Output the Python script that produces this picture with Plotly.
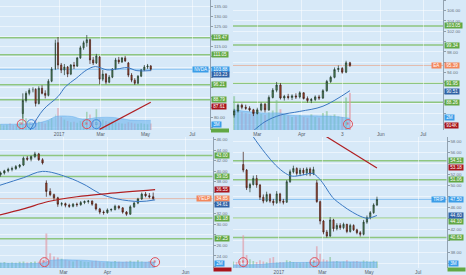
import pandas as pd
import plotly.graph_objects as go

FONT = "Liberation Sans"
HOLIDAYS = ["2016-11-24", "2016-12-26", "2017-01-02", "2017-01-16",
            "2017-02-20", "2017-04-14", "2017-05-29", "2017-07-04"]

# ---------------- NVDA (every 3rd trading day from start) ----------------
NV_START = "2016-10-13"
NV_STEP = 3
NV_O = [66, 66.5, 67, 68, 66.5, 65.5, 66.5,
        82, 88.5, 92, 93.5, 94, 87, 94.5, 92, 91, 98,
        104, 117, 106, 103.5, 105, 101.5, 106, 105.5, 109.5, 114.5,
        117, 118.5, 108.5, 107, 110, 99, 101.5, 97.5, 100, 104,
        108.5, 107.5, 109.5, 107, 101, 98.5, 97, 100.5, 103.5, 105,
        105.5]
NV_H = [67, 67.5, 68.5, 68.5, 67, 67, 69,
        92, 93, 94.5, 95, 94.5, 95.5, 96, 93.5, 99, 105,
        118.5, 119.8, 107, 106.5, 105.5, 106.5, 107.5, 110, 115.5, 118,
        120.8, 119, 110, 111.5, 110.5, 103.5, 102, 101, 104.5, 109.5,
        110, 110, 110.5, 107.5, 102, 99.5, 101, 104, 106, 106.5,
        106]
NV_L = [65.5, 66, 66.5, 66, 65, 65, 66,
        79.5, 87.5, 91, 92.5, 85.5, 86.5, 91.5, 89.5, 90.5, 97.5,
        103.5, 104, 102, 101, 100, 101, 104, 105, 109, 113.5,
        115, 106.5, 106, 106.5, 96.5, 98, 96.5, 97, 99.5, 103.5,
        106.5, 107, 107.5, 100, 97.5, 96.2, 96.5, 100, 103, 104,
        103]
NV_C = [66.5, 67, 68, 66.5, 65.5, 66.5, 68.5,
        88.5, 92, 93.5, 94, 87, 94.5, 92, 91, 98, 104,
        117, 106, 103.5, 105, 101.5, 106, 105.5, 109.5, 114.5, 117,
        118.5, 108.5, 107, 110.5, 99, 101.5, 97.5, 100, 104, 108.5,
        107.5, 109.5, 108, 101, 98.5, 97, 100.5, 103.5, 105, 105.5,
        103.88]
NV_VOL = [22, 18, 20, 25, 19, 21, 30,
          80, 45, 30, 28, 40, 32, 30, 25, 35, 45,
          60, 85, 50, 40, 35, 30, 32, 28, 35, 40,
          70, 60, 40, 80, 45, 40, 35, 30, 32, 30,
          28, 25, 24, 30, 28, 25, 24, 26, 24, 22,
          25]
NV_VMA_D = ["2016-10-13", "2016-11-10", "2016-12-01", "2016-12-16", "2016-12-28",
            "2017-01-20", "2017-02-03", "2017-02-24", "2017-03-20", "2017-04-10", "2017-05-08"]
NV_VMA_V = [22, 23, 26, 38, 52, 52, 42, 48, 48, 38, 37]
NV_MA50_D = ["2016-11-21", "2016-12-09", "2016-12-30", "2017-01-11", "2017-01-26", "2017-02-09",
             "2017-02-22", "2017-03-09", "2017-03-22", "2017-04-05", "2017-04-19", "2017-05-08"]
NV_MA50_V = [73.0, 83.8, 90.4, 95.3, 99.4, 103.6, 105.2, 103.6, 104.0, 104.7, 103.2, 103.23]
NV_MA200_D = ["2017-02-28", "2017-05-08"]
NV_MA200_V = [74.2, 87.61]
NV_EVT_D = ["2016-11-10", "2016-11-23", "2017-02-09", "2017-02-23"]
NV_EVT_T = ["E", "D", "E", "D"]
NV_LEVELS = [119.47, 111.05, 96.21, 88.79]
NV_TICKVALS = ["2017-01-03", "2017-03-01", "2017-05-01", "2017-07-03"]
NV_TICKTEXT = ["2017", "Mar", "May", "Jul"]

# ---------------- EA (every 2nd trading day) ----------------
EA_START = "2017-02-10"
EA_STEP = 2
EA_O = [85.8, 86.6, 87.7, 87.3, 87.1, 86.8, 86.1, 86.8, 87.9, 86.8,
        89.2, 90.6, 91.6, 89.1, 89.4, 89.2, 89.5, 89.3, 90.1, 89.0,
        88.6, 88.8, 89.3, 89.1, 90.5, 92.3, 93.1, 94.6, 94.8, 94.1, 95.9]
EA_H = [87.0, 88.0, 88.0, 87.8, 87.5, 87.0, 87.2, 88.2, 88.1, 89.6,
        91.0, 92.2, 92.0, 89.7, 89.9, 89.8, 90.0, 90.4, 90.2, 89.4,
        89.1, 89.6, 89.7, 90.8, 92.6, 93.4, 95.0, 95.4, 95.1, 96.3, 96.1]
EA_L = [85.3, 86.3, 86.9, 86.8, 86.5, 85.6, 85.9, 86.5, 86.3, 86.6,
        89.0, 90.2, 88.8, 88.6, 88.8, 88.7, 88.9, 89.0, 88.8, 88.2,
        88.1, 88.5, 88.7, 88.9, 90.3, 92.0, 92.9, 94.1, 93.8, 93.9, 95.1]
EA_C = [86.6, 87.7, 87.3, 87.1, 86.8, 86.1, 86.8, 87.9, 86.8, 89.2,
        90.6, 91.6, 89.1, 89.4, 89.2, 89.5, 89.3, 90.1, 89.0, 88.6,
        88.8, 89.3, 89.1, 90.5, 92.3, 93.1, 94.6, 94.8, 94.1, 95.9, 95.39]
EA_VOL = [5.2, 3.0, 2.8, 2.6, 2.5, 2.9, 2.4, 2.5, 2.3, 2.7,
          3.0, 4.6, 3.2, 2.4, 2.2, 2.0, 2.1, 2.3, 2.0, 1.9,
          2.4, 2.0, 1.9, 2.6, 2.9, 2.2, 2.4, 2.1, 2.0, 5.0, 5.7]
EA_VMA_D = ["2017-02-10", "2017-02-23", "2017-03-06", "2017-03-17", "2017-03-23", "2017-04-26", "2017-05-09"]
EA_VMA_V = [3.1, 2.8, 2.6, 2.6, 2.3, 2.1, 1.8]
EA_MA50_D = ["2017-02-24", "2017-03-07", "2017-03-17", "2017-03-31", "2017-04-19", "2017-05-09"]
EA_MA50_V = [82.4, 84.5, 85.8, 86.5, 87.5, 90.51]
EA_EVT_D = ["2017-05-08"]
EA_EVT_T = ["E"]
EA_LEVELS = [103.05, 99.34, 91.95, 88.26]
EA_TICKVALS = ["2017-03-01", "2017-04-03", "2017-05-03", "2017-06-01", "2017-07-03"]
EA_TICKTEXT = ["Mar", "Apr", "3", "Jun", "Jul"]

# ---------------- YELP (every 2nd trading day) ----------------
YP_START = "2017-01-11"
YP_STEP = 2
YP_O = [39.4, 39.7, 40.1, 40.4, 40.5, 40.9, 41.2, 42.5, 42.3, 42.8,
        43.3, 42.2, 37.8, 36.2, 35.6, 35.0, 33.8, 33.9, 33.6, 33.4,
        33.8, 33.7, 34.1, 34.3, 34.4, 33.8, 32.9, 32.3, 32.2, 32.7,
        32.8, 33.4, 33.1, 32.3, 31.9, 33.3, 34.0, 34.8, 35.7, 35.4, 35.2]
YP_H = [40.0, 40.3, 40.7, 40.9, 41.2, 41.4, 42.8, 42.9, 43.0, 43.7,
        43.5, 42.5, 38.3, 36.8, 35.8, 35.2, 34.2, 34.1, 33.9, 34.0,
        34.1, 34.4, 34.5, 34.6, 34.5, 34.0, 33.1, 32.6, 33.0, 33.0,
        33.7, 33.6, 33.2, 32.5, 33.6, 34.3, 35.0, 36.0, 36.1, 35.9, 36.0]
YP_L = [39.0, 39.4, 39.8, 40.0, 40.3, 40.6, 41.0, 42.0, 41.9, 42.5,
        42.0, 41.3, 35.2, 35.3, 34.6, 33.3, 33.4, 33.2, 33.1, 33.2,
        33.3, 33.5, 33.8, 33.9, 33.5, 32.6, 31.9, 31.8, 32.0, 32.4,
        32.6, 32.8, 32.0, 31.6, 31.8, 33.1, 33.8, 34.6, 35.1, 34.9, 34.6]
YP_C = [39.7, 40.1, 40.4, 40.5, 40.9, 41.2, 42.5, 42.3, 42.8, 43.3,
        42.2, 41.6, 36.2, 35.6, 35.0, 33.8, 33.9, 33.6, 33.4, 33.8,
        33.7, 34.1, 34.3, 34.4, 33.8, 32.9, 32.3, 32.2, 32.7, 32.8,
        33.4, 33.1, 32.3, 31.9, 33.3, 34.0, 34.8, 35.7, 35.4, 35.2, 34.85]
YP_VOL = [1.6, 1.8, 1.5, 1.7, 1.6, 1.9, 2.0, 1.7, 1.8, 2.0,
          1.9, 2.4, 10.5, 4.5, 3.5, 3.2, 2.8, 2.5, 2.2, 2.0,
          2.4, 2.1, 1.9, 1.8, 2.0, 2.2, 1.9, 1.7, 2.0, 1.8,
          2.1, 1.9, 1.8, 2.0, 2.2, 1.9, 2.4, 2.0, 1.8, 2.1, 1.9]
YP_VMA_D = ["2017-01-10", "2017-02-14", "2017-02-17", "2017-03-14", "2017-04-03", "2017-05-09"]
YP_VMA_V = [1.5, 1.6, 2.3, 2.4, 1.9, 1.8]
YP_MA50_D = ["2017-01-10", "2017-01-30", "2017-02-13", "2017-03-03", "2017-03-17",
             "2017-03-28", "2017-04-10", "2017-04-27", "2017-05-09"]
YP_MA50_V = [37.3, 38.8, 40.0, 38.9, 37.3, 35.8, 34.8, 34.3, 34.61]
YP_MA200_D = ["2017-01-10", "2017-01-30", "2017-02-16", "2017-03-10", "2017-04-03", "2017-05-09"]
YP_MA200_V = [31.7, 32.9, 34.3, 35.2, 35.8, 36.55]
YP_EVT_D = ["2017-02-14", "2017-05-09"]
YP_EVT_T = ["E", "E"]
YP_LEVELS = [43.00, 39.05, 31.18, 27.25]
YP_TICKVALS = ["2017-03-01", "2017-04-03", "2017-06-01"]
YP_TICKTEXT = ["Mar", "Apr", "Jun"]

# ---------------- TRIP (every 3rd trading day) ----------------
TR_START = "2016-11-02"
TR_STEP = 3
TR_O = [62.0, 62.5, 62.0, 53.8, 52.8, 49.6, 50.2, 51.3, 50.1, 47.9,
        47.2, 48.4, 47.2, 46.9, 48.5, 47.2, 47.0, 50.7, 52.5, 53.1,
        52.2, 52.8, 52.3, 53.0, 52.1, 50.5, 47.1, 43.6, 41.6, 40.9,
        43.8, 42.2, 42.8, 42.4, 43.0, 41.7, 42.8, 42.0, 41.5, 41.2,
        43.4, 44.2, 45.1, 46.5]
TR_H = [63.0, 63.5, 62.5, 56.1, 53.0, 50.5, 51.8, 51.9, 50.3, 48.4,
        48.9, 48.6, 47.6, 49.0, 48.7, 47.6, 51.0, 52.9, 53.6, 53.3,
        53.2, 53.2, 53.3, 53.3, 53.4, 51.0, 47.3, 43.8, 42.0, 44.3,
        44.0, 43.2, 43.2, 43.3, 43.1, 43.1, 43.0, 42.2, 41.8, 43.8,
        44.6, 45.4, 46.8, 48.0]
TR_L = [61.0, 61.5, 60.5, 52.4, 49.2, 48.8, 50.0, 49.6, 47.4, 46.8,
        47.0, 46.9, 46.4, 46.7, 46.8, 46.6, 46.9, 50.5, 52.2, 51.8,
        51.7, 51.9, 51.8, 51.7, 51.9, 46.9, 43.0, 41.2, 40.6, 40.7,
        41.7, 41.9, 42.0, 42.1, 41.4, 41.5, 41.8, 41.2, 40.8, 41.0,
        43.1, 43.9, 44.9, 46.3]
TR_C = [62.5, 62.0, 61.0, 52.8, 49.6, 50.2, 51.3, 50.1, 47.9, 47.2,
        48.4, 47.2, 46.9, 48.5, 47.2, 47.0, 50.7, 52.5, 53.1, 52.2,
        52.8, 52.3, 53.0, 52.1, 52.9, 47.1, 43.6, 41.6, 40.9, 43.8,
        42.2, 42.8, 42.4, 43.0, 41.7, 42.8, 42.0, 41.5, 41.2, 43.4,
        44.2, 45.1, 46.5, 47.5]
TR_VOL = [3.0, 2.8, 3.2, 15.0, 6.0, 4.0, 3.2, 2.8, 3.5, 3.0,
          2.6, 4.5, 5.0, 2.5, 2.8, 2.6, 3.5, 3.2, 2.8, 2.5,
          2.4, 2.6, 2.7, 2.5, 3.0, 10.0, 6.5, 4.0, 3.5, 5.0,
          3.0, 3.2, 2.8, 3.0, 3.5, 2.8, 3.0, 3.2, 2.6, 3.4,
          3.1, 2.9, 3.3, 3.0]
TR_VMA_D = ["2016-11-02", "2016-12-05", "2016-12-30", "2017-02-15", "2017-03-10", "2017-05-10"]
TR_VMA_V = [1.4, 1.6, 2.3, 2.6, 2.8, 2.7]
TR_MA50_D = ["2016-11-23", "2016-11-29", "2016-12-14", "2016-12-28", "2017-01-11", "2017-01-20",
             "2017-02-02", "2017-02-15", "2017-02-24", "2017-03-06", "2017-03-14", "2017-03-27",
             "2017-04-07", "2017-04-21", "2017-04-28", "2017-05-10"]
TR_MA50_V = [59.8, 58.8, 55.8, 53.7, 52.2, 51.7, 51.9, 52.2, 51.3, 49.7, 47.9, 46.4,
             45.2, 44.3, 44.1, 44.6]
TR_MA200_D = ["2017-03-01", "2017-05-10"]
TR_MA200_V = [59.3, 53.18]
TR_EVT_D = ["2016-11-15", "2017-02-17"]
TR_EVT_T = ["E", "E"]
TR_LEVELS = [54.51, 51.06, 44.10, 40.63]
TR_TICKVALS = ["2017-01-03", "2017-03-01", "2017-05-01", "2017-07-03"]
TR_TICKTEXT = ["2017", "Mar", "May", "Jul"]

# ---------------- styling ----------------
W, H = 466, 275
BG = "#d7e9f8"
GRID = "rgba(255,255,255,0.5)"
INC_LINE, INC_FILL = "#223a2a", "#4f8a5d"
DEC_LINE, DEC_FILL = "#3f1b12", "#b34a31"
MA50_C, MA200_C = "#3a78c2", "#b01f22"
LEVEL_C = "rgba(118,186,88,0.75)"
GREEN, BLUE, ORANGE, DBLUE, DRED = "#62a844", "#3b9de8", "#f2875c", "#2f62a5", "#a8141b"


def trade_dates(start, n, step):
    days = pd.bdate_range(start=start, periods=n * step + 2, freq="C", holidays=HOLIDAYS)
    return [d.strftime("%Y-%m-%d") for d in days[::step][:n]]


PANELS = [
    dict(tk="NVDA", start=NV_START, step=NV_STEP, o=NV_O, h=NV_H, l=NV_L, c=NV_C, vol=NV_VOL,
         vma=(NV_VMA_D, NV_VMA_V), ma50=(NV_MA50_D, NV_MA50_V), ma200=(NV_MA200_D, NV_MA200_V),
         evt=(NV_EVT_D, NV_EVT_T), levels=NV_LEVELS, ticks=(NV_TICKVALS, NV_TICKTEXT),
         xr=["2016-10-12 14:00", "2017-07-26 14:00"], yr=[73.9, 138.1], dtick=5, vmax=500,
         px=(0, 210), py=(0, 130), pcol=BLUE, ma50_shift=-4, ma200_shift=-4,
         vlabels=[("3M", BLUE, 124.3), ("", GREEN, 130.5)]),
    dict(tk="EA", start=EA_START, step=EA_STEP, o=EA_O, h=EA_H, l=EA_L, c=EA_C, vol=EA_VOL,
         vma=(EA_VMA_D, EA_VMA_V), ma50=(EA_MA50_D, EA_MA50_V), ma200=None,
         evt=(EA_EVT_D, EA_EVT_T), levels=EA_LEVELS, ticks=(EA_TICKVALS, EA_TICKTEXT),
         xr=["2017-02-09 10:00", "2017-07-18 05:00"], yr=[82.9, 108.06], dtick=2, vmax=20,
         px=(233, 443), py=(0, 130), pcol=ORANGE, ma50_shift=-1, ma200_shift=0,
         vlabels=[("2M", BLUE, 117.3), ("914K", DRED, 125.3)]),
    dict(tk="YELP", start=YP_START, step=YP_STEP, o=YP_O, h=YP_H, l=YP_L, c=YP_C, vol=YP_VOL,
         vma=(YP_VMA_D, YP_VMA_V), ma50=(YP_MA50_D, YP_MA50_V), ma200=(YP_MA200_D, YP_MA200_V),
         evt=(YP_EVT_D, YP_EVT_T), levels=YP_LEVELS, ticks=(YP_TICKVALS, YP_TICKTEXT),
         xr=["2017-01-10 17:00", "2017-06-21 02:00"], yr=[21.73, 46.5], dtick=2, vmax=40,
         px=(0, 212.5), py=(137, 268), pcol=ORANGE, ma50_shift=-5, ma200_shift=0,
         vlabels=[("2M", BLUE, 263.7), ("", DRED, 269.5)]),
    dict(tk="TRIP", start=TR_START, step=TR_STEP, o=TR_O, h=TR_H, l=TR_L, c=TR_C, vol=TR_VOL,
         vma=(TR_VMA_D, TR_VMA_V), ma50=(TR_MA50_D, TR_MA50_V), ma200=(TR_MA200_D, TR_MA200_V),
         evt=(TR_EVT_D, TR_EVT_T), levels=TR_LEVELS, ticks=(TR_TICKVALS, TR_TICKTEXT),
         xr=["2016-11-01 19:00", "2017-08-08 10:00"], yr=[35.11, 58.78], dtick=2, vmax=60,
         px=(233, 446.5), py=(137, 268), pcol=BLUE, ma50_shift=0, ma200_shift=0,
         vlabels=[("3M", BLUE, 263.0), ("", GREEN, 269.5)]),
]

fig = go.Figure()
annotations = []
shapes = []
layout = {}
NB = "\u00a0"


def lab(xp, yref, y, text, color, anchor="left", yshift=0):
    return dict(x=xp, xref="paper", y=y, yref=yref, text=NB + text + NB, showarrow=False,
                xanchor=anchor, yanchor="middle", bgcolor=color, borderpad=0,
                xshift=1 if anchor == "left" else -1, yshift=yshift,
                font=dict(size=4.6, color="white", family=FONT))


for i, p in enumerate(PANELS, start=1):
    xk = "x" if i == 1 else f"x{i}"
    vk = "y" if i == 1 else f"y{i}"          # volume (base) axis
    pk = f"y{i + 4}"                          # price (overlay) axis
    xdom = [p["px"][0] / W, p["px"][1] / W]
    ydom = [1 - p["py"][1] / H, 1 - p["py"][0] / H]
    dates = trade_dates(p["start"], len(p["c"]), p["step"])
    lo, hi = p["yr"]

    def ypix(v):
        return p["py"][0] + (hi - v) / (hi - lo) * (p["py"][1] - p["py"][0])

    # volume bars and volume average area (base axis)
    vcol = ["rgba(120,190,135,0.55)" if c >= o else "rgba(226,146,158,0.6)"
            for o, c in zip(p["o"], p["c"])]
    fig.add_trace(go.Scatter(x=p["vma"][0], y=p["vma"][1], xaxis=xk, yaxis=vk, mode="lines",
                             line=dict(color="rgba(95,170,235,0.8)", width=0.6, shape="spline"),
                             fill="tozeroy", fillcolor="rgba(110,182,238,0.6)", hoverinfo="skip"))
    fig.add_trace(go.Bar(x=dates, y=p["vol"], xaxis=xk, yaxis=vk, marker_color=vcol,
                         marker_line_width=0, hoverinfo="skip"))
    ecol = ["#e0505a" if t == "E" else "#3f8be0" for t in p["evt"][1]]
    fig.add_trace(go.Scatter(x=p["evt"][0], y=[p["vmax"] * 0.045] * len(p["evt"][0]),
                             xaxis=xk, yaxis=vk, mode="markers+text", text=p["evt"][1],
                             textposition="middle center",
                             textfont=dict(size=4, color=ecol, family=FONT),
                             marker=dict(symbol="circle-open", size=9, color=ecol,
                                         line=dict(width=1, color=ecol)),
                             hoverinfo="skip"))

    # price (overlay axis)
    fig.add_trace(go.Candlestick(x=dates, open=p["o"], high=p["h"], low=p["l"], close=p["c"],
                                 xaxis=xk, yaxis=pk, whiskerwidth=0,
                                 increasing=dict(line=dict(color=INC_LINE, width=0.7), fillcolor=INC_FILL),
                                 decreasing=dict(line=dict(color=DEC_LINE, width=0.7), fillcolor=DEC_FILL),
                                 hoverinfo="skip"))
    fig.add_trace(go.Scatter(x=p["ma50"][0], y=p["ma50"][1], xaxis=xk, yaxis=pk, mode="lines",
                             line=dict(color=MA50_C, width=1, shape="spline"), hoverinfo="skip"))
    if p["ma200"]:
        fig.add_trace(go.Scatter(x=p["ma200"][0], y=p["ma200"][1], xaxis=xk, yaxis=pk, mode="lines",
                                 line=dict(color=MA200_C, width=1.2, shape="spline"), hoverinfo="skip"))

    # horizontal level lines and last price line
    for lv in p["levels"]:
        shapes.append(dict(type="line", xref=f"{xk} domain", x0=0, x1=1, yref=pk, y0=lv, y1=lv,
                           line=dict(color=LEVEL_C, width=1.5), layer="below"))
    last = p["c"][-1]
    pline = "rgba(70,160,235,0.55)" if p["pcol"] == BLUE else "rgba(240,140,100,0.5)"
    shapes.append(dict(type="line", xref=f"{xk} domain", x0=0, x1=1, yref=pk, y0=last, y1=last,
                       line=dict(color=pline, width=1), layer="below"))

    # right-side labels (collect pixel rows so covered tick labels can be blanked)
    xa = p["px"][1] / W
    rows = []
    for lv in p["levels"]:
        ys = -3 if (p["tk"] == "TRIP" and lv == 44.10) else 0
        annotations.append(lab(xa, pk, lv, f"{lv:.2f}", GREEN, yshift=ys))
        rows.append(ypix(lv) - ys)
    annotations.append(lab(xa, pk, last, f"{last:.2f}", p["pcol"]))
    annotations.append(lab(xa, pk, last, p["tk"], p["pcol"], anchor="right"))
    rows.append(ypix(last))
    m50 = p["ma50"][1][-1]
    annotations.append(lab(xa, pk, m50, f"{m50:.2f}", DBLUE, yshift=p["ma50_shift"]))
    rows.append(ypix(m50) - p["ma50_shift"])
    if p["ma200"]:
        m200 = p["ma200"][1][-1]
        annotations.append(lab(xa, pk, m200, f"{m200:.2f}", DRED, yshift=p["ma200_shift"]))
        rows.append(ypix(m200) - p["ma200_shift"])
    for txt, col, yp in p["vlabels"]:
        rows.append(yp)
        if txt:
            annotations.append(lab(xa, "paper", 1 - yp / H, txt, col))
        else:
            shapes.append(dict(type="rect", xref="paper", yref="paper", x0=xa + 1 / W,
                               x1=xa + 19 / W, y0=1 - (yp + 2) / H, y1=1 - (yp - 2) / H,
                               fillcolor=col, line=dict(width=0)))

    # price ticks: every dtick, text hidden where a label box sits over it
    first = (int(lo // p["dtick"]) + 1) * p["dtick"]
    tvals = [first + k * p["dtick"] for k in range(int((hi - first) // p["dtick"]) + 1)]
    ttext = ["" if any(abs(ypix(v) - r) < 4 for r in rows) else f"{v:.2f}" for v in tvals]

    xname = "xaxis" if i == 1 else f"xaxis{i}"
    layout[xname] = dict(domain=xdom, anchor=vk, type="date", range=p["xr"],
                         rangebreaks=[dict(bounds=["sat", "mon"]), dict(values=HOLIDAYS)],
                         tickmode="array", tickvals=p["ticks"][0], ticktext=p["ticks"][1],
                         showgrid=True, gridcolor=GRID, gridwidth=1, ticks="",
                         tickfont=dict(size=4.8, color="#55606a", family=FONT),
                         rangeslider=dict(visible=False), zeroline=False, showline=False,
                         fixedrange=True)
    vname = "yaxis" if i == 1 else f"yaxis{i}"
    layout[vname] = dict(domain=ydom, anchor=xk, range=[0, p["vmax"]], visible=False,
                         fixedrange=True)
    layout[f"yaxis{i + 4}"] = dict(domain=ydom, anchor=xk, overlaying=vk, side="right",
                                   range=p["yr"], tickmode="array", tickvals=tvals, ticktext=ttext,
                                   showgrid=True, gridcolor=GRID, ticks="outside", ticklen=2,
                                   tickcolor="#8f9daa", showline=True, linecolor="#93a3b1",
                                   linewidth=1, zeroline=False,
                                   tickfont=dict(size=4.4, color="#6a737c", family=FONT),
                                   fixedrange=True)

fig.update_layout(width=W, height=H, margin=dict(l=0, r=0, t=0, b=0),
                  paper_bgcolor=BG, plot_bgcolor=BG, showlegend=False, hovermode=False,
                  bargap=0.5, boxgap=0.5, font=dict(family=FONT, size=5, color="#666"),
                  annotations=annotations, shapes=shapes, **layout)

fig.write_html("out.html")
